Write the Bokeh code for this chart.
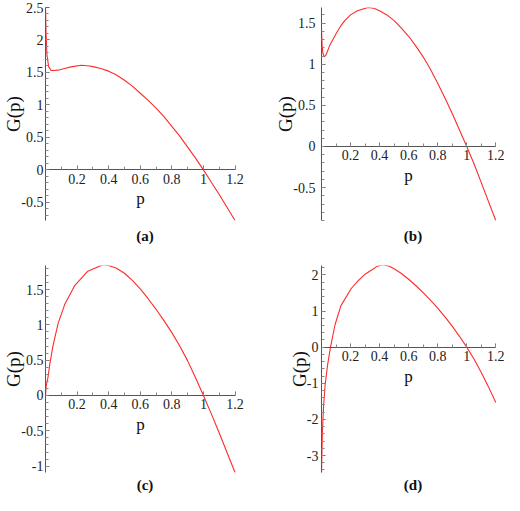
import numpy as np
from bokeh.plotting import figure
from bokeh.layouts import gridplot
from bokeh.models import Range1d, FixedTicker
from bokeh.embed import file_html
from bokeh.resources import INLINE

FONT = "Liberation Serif"

# G(p)
p_a = [0, 0.002, 0.004, 0.009, 0.02, 0.035, 0.056, 0.09, 0.12, 0.17, 0.228, 0.28, 0.3,
       0.35, 0.4, 0.45, 0.5, 0.55, 0.6, 0.65, 0.7, 0.75, 0.8, 0.85, 0.9, 0.95, 1.0,
       1.05, 1.1, 1.15, 1.2]
G_a = [2.5, 2.27, 2.07, 1.77, 1.59, 1.53, 1.53, 1.54, 1.56, 1.59, 1.61, 1.6, 1.59,
       1.56, 1.52, 1.46, 1.38, 1.29, 1.18, 1.07, 0.95, 0.82, 0.67, 0.52, 0.35, 0.18, 0,
       -0.19, -0.38, -0.58, -0.78]

p_b = [0, 0.004, 0.01, 0.019, 0.03, 0.057, 0.1, 0.13, 0.16, 0.2, 0.247, 0.32, 0.36,
       0.4, 0.45, 0.5, 0.55, 0.6, 0.65, 0.7, 0.75, 0.8, 0.85, 0.9, 0.95, 1.0, 1.05,
       1.1, 1.15, 1.2]
G_b = [1.43, 1.23, 1.13, 1.09, 1.11, 1.23, 1.37, 1.46, 1.53, 1.6, 1.65, 1.69, 1.68,
       1.65, 1.6, 1.53, 1.44, 1.34, 1.22, 1.09, 0.94, 0.77, 0.59, 0.4, 0.2, 0, -0.21,
       -0.44, -0.67, -0.9]

p_c = [0, 0.004, 0.016, 0.027, 0.048, 0.08, 0.122, 0.186, 0.268, 0.363, 0.4, 0.45,
       0.5, 0.55, 0.6, 0.65, 0.7, 0.75, 0.8, 0.85, 0.9, 0.95, 1.0, 1.05, 1.1, 1.15, 1.2]
G_c = [0, 0.13, 0.26, 0.44, 0.71, 1.02, 1.29, 1.56, 1.76, 1.85, 1.84, 1.8,
       1.73, 1.63, 1.51, 1.37, 1.22, 1.06, 0.89, 0.7, 0.49, 0.25, 0, -0.26, -0.53, -0.81, -1.09]

p_d = [0, 0.006, 0.014, 0.025, 0.041, 0.062, 0.093, 0.134, 0.206, 0.25, 0.278, 0.3,
       0.35, 0.38, 0.42, 0.46, 0.5, 0.55, 0.6, 0.65, 0.7, 0.75, 0.8, 0.85, 0.9, 0.95,
       1.0, 1.05, 1.1, 1.15, 1.2]
G_d = [-3.5, -2.36, -1.66, -1.04, -0.52, 0, 0.62, 1.15, 1.63, 1.83, 1.94, 2.02,
       2.15, 2.23, 2.28, 2.25, 2.17, 2.04, 1.88, 1.7, 1.51, 1.3, 1.08, 0.84, 0.58, 0.3,
       0, -0.33, -0.7, -1.1, -1.53]

x_ticks = [0.2, 0.4, 0.6, 0.8, 1.0, 1.2]
x_tick_labels = ["0.2", "0.4", "0.6", "0.8", "1", "1.2"]

y_ticks_a = [-0.5, 0, 0.5, 1, 1.5, 2, 2.5]
y_labels_a = ["-0.5", "0", "0.5", "1", "1.5", "2", "2.5"]
y_ticks_b = [-0.5, 0, 0.5, 1, 1.5]
y_labels_b = ["-0.5", "0", "0.5", "1", "1.5"]
y_ticks_c = [-1, -0.5, 0, 0.5, 1, 1.5]
y_labels_c = ["-1", "-0.5", "0", "0.5", "1", "1.5"]
y_ticks_d = [-3, -2, -1, 0, 1, 2]
y_labels_d = ["-3", "-2", "-1", "0", "1", "2"]


def make_panel(caption, px, gy, ylim, yticks, ylabels, ystep, size, borders, cap_gap, ylab_gap):
    left, right, top, bottom = borders
    # x range runs a little past 1.2 so the last tick label is not cut
    p = figure(width=size[0], height=size[1], x_range=Range1d(0, 1.26), y_range=Range1d(*ylim),
               output_backend="svg", toolbar_location=None,
               min_border_left=left, min_border_right=right, min_border_top=top,
               min_border_bottom=bottom, title=caption, title_location="below")
    p.outline_line_color = None
    p.grid.visible = False

    p.line(px, gy, line_color="#ff2a2a", line_width=1.1)

    p.xaxis.fixed_location = 0
    p.xaxis.bounds = (0, 1.2)
    p.xaxis.ticker = FixedTicker(ticks=x_ticks, minor_ticks=list(np.arange(0.1, 1.21, 0.1)))
    p.xaxis.major_label_overrides = dict(zip(x_ticks, x_tick_labels))
    p.xaxis.axis_label = "p"
    p.xaxis.axis_label_text_font_size = "17px"
    p.xaxis.axis_label_standoff = 2
    p.xaxis.major_label_standoff = 4

    p.yaxis.ticker = FixedTicker(ticks=yticks,
                                 minor_ticks=list(np.arange(ylim[0] - ylim[0] % ystep, ylim[1], ystep)))
    p.yaxis.major_label_overrides = dict(zip(yticks, ylabels))
    p.yaxis.axis_label = "G(p)"
    p.yaxis.axis_label_text_font_size = "19px"
    p.yaxis.axis_label_standoff = -6
    p.yaxis.major_label_standoff = ylab_gap

    for ax in (p.xaxis, p.yaxis):
        ax.axis_line_color = "#555555"
        ax.major_tick_line_color = "#666666"
        ax.minor_tick_line_color = "#888888"
        ax.major_tick_in = 4
        ax.major_tick_out = 0
        ax.minor_tick_in = 3
        ax.minor_tick_out = 0
        ax.major_label_text_font = FONT
        ax.major_label_text_font_size = "14px"
        ax.major_label_text_color = "#222222"
        ax.axis_label_text_font = FONT
        ax.axis_label_text_font_style = "normal"
        ax.axis_label_text_color = "#111111"

    p.title.align = "center"
    p.title.text_font = FONT
    p.title.text_font_size = "15px"
    p.title.text_font_style = "bold"
    p.title.text_color = "#111111"
    p.title.standoff = cap_gap
    return p


pa = make_panel("(a)", p_a, G_a, (-0.78, 2.5), y_ticks_a, y_labels_a, 0.1,
                (260, 252), (44, 16, 7, 32), 11, 2)
pb = make_panel("(b)", p_b, G_b, (-0.9, 1.69), y_ticks_b, y_labels_b, 0.1,
                (244, 252), (61, 0, 2, 32), 11, 6)
pc = make_panel("(c)", p_c, G_c, (-1.09, 1.84), y_ticks_c, y_labels_c, 0.1,
                (260, 243), (44, 16, 13, 20), 5, 2)
pd = make_panel("(d)", p_d, G_d, (-3.47, 2.26), y_ticks_d, y_labels_d, 0.2,
                (244, 243), (57, 0, 13, 20), 5, 3)

grid = gridplot([[pa, pb], [pc, pd]], toolbar_location=None)
open("out.html", "w").write(file_html(grid, INLINE))
